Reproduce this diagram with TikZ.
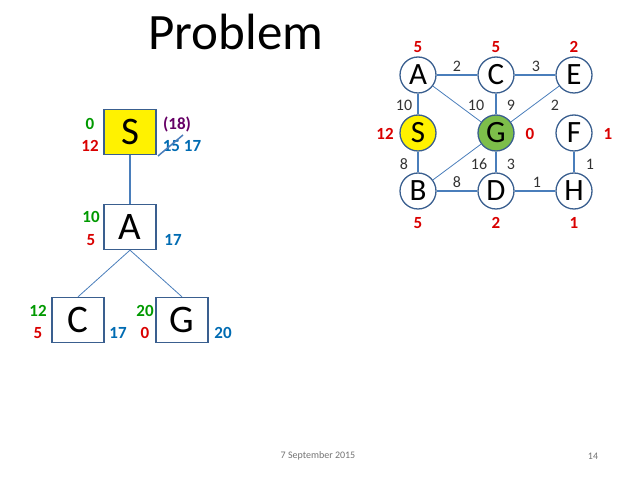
\documentclass[tikz,border=0pt]{standalone}
\usepackage{fontspec}
\setmainfont{Carlito}
\definecolor{gfill}{HTML}{7DBE4A}
\definecolor{ecol}{HTML}{4A7EBB}
\definecolor{bcol}{HTML}{3A5F8F}
\begin{document}
\begin{tikzpicture}[x=1pt,y=-1pt,
 gn/.style={circle,draw=bcol,line width=1.3pt,minimum size=36pt,inner sep=0pt,font=\fontsize{31}{31}\selectfont},
 tb/.style={draw=bcol,line width=1.3pt,minimum width=52pt,minimum height=45pt,inner sep=0pt,font=\fontsize{39}{39}\selectfont},
 thick edge/.style={draw=ecol,line width=1.8pt},
 thin edge/.style={draw=ecol,line width=0.8pt},
 rl/.style={text=red!85!black,font=\bfseries\fontsize{17}{17}\selectfont},
 gl/.style={text=green!60!black,font=\bfseries\fontsize{17}{17}\selectfont},
 bl/.style={text=blue!40!cyan!70!black,font=\bfseries\fontsize{17}{17}\selectfont},
 el/.style={text=black!80,font=\fontsize{16}{16}\selectfont}]
\useasboundingbox (0,0) rectangle (638,478);
\node (title) at (236,32) {\fontsize{51}{51}\selectfont Problem};
% graph
\node[gn] (A) at (418,75) {A};
\node[gn] (C) at (496,75) {C};
\node[gn] (E) at (574,75) {E};
\node[gn,fill=yellow] (S) at (418,133) {S};
\node[gn,fill=gfill] (G) at (496,133) {G};
\node[gn] (F) at (574,133) {F};
\node[gn] (B) at (418,191) {B};
\node[gn] (D) at (496,191) {D};
\node[gn] (H) at (574,191) {H};
\draw[thick edge] (A)--(C); \draw[thick edge] (C)--(E);
\draw[thick edge] (A)--(S); \draw[thick edge] (C)--(G);
\draw[thick edge] (S)--(B); \draw[thick edge] (G)--(D);
\draw[thick edge] (B)--(D); \draw[thick edge] (D)--(H);
\draw[thick edge] (F)--(H);
\draw[thin edge] (A)--(G); \draw[thin edge] (E)--(G); \draw[thin edge] (B)--(G);
\node[rl] (hA) at (418,47) {5};
\node[rl] (hC) at (496,47) {5};
\node[rl] (hE) at (574,47) {2};
\node[rl] (hS) at (385,134) {12};
\node[rl] (hG) at (530,134) {0};
\node[rl] (hF) at (608,134) {1};
\node[rl] (hB) at (418,223) {5};
\node[rl] (hD) at (496,223) {2};
\node[rl] (hH) at (574,223) {1};
\node[el] (e1) at (457,66) {2};
\node[el] (e2) at (536,66) {3};
\node[el] (e3) at (404,105) {10};
\node[el] (e4) at (476,105) {10};
\node[el] (e5) at (511,105) {9};
\node[el] (e6) at (555,105) {2};
\node[el] (e7) at (404,164) {8};
\node[el] (e8) at (479,164) {16};
\node[el] (e9) at (511,164) {3};
\node[el] (e10) at (457,182) {8};
\node[el] (e11) at (537,182) {1};
\node[el] (e12) at (590,164) {1};
% tree
\node[tb,fill=yellow] (tS) at (130,132) {S};
\node[tb,fill=white] (tA) at (130,227) {A};
\node[tb,fill=white] (tC) at (78,320) {C};
\node[tb,fill=white] (tG) at (182,320) {G};
\draw[thin edge,line width=1.2pt] (tS)--(tA);
\draw[thin edge] (tA.south)--(tC.north);
\draw[thin edge] (tA.south)--(tG.north);
\node[gl] (sg) at (90,124) {0};
\node[rl] (sr) at (90,146) {12};
\node[text=violet!80!black,font=\bfseries\fontsize{17}{17}\selectfont] (sp) at (177,124) {(18)};
\node[bl] (sb) at (182,146) {15 17};
\coordinate (s1) at (158,156);
\coordinate (s2) at (183,135);
\draw[ecol,line width=1.5pt] (s1)--(s2);
\node[gl] (ag) at (91,217) {10};
\node[rl] (ar) at (91,240) {5};
\node[bl] (ab) at (173,240) {17};
\node[gl] (cg) at (38,311) {12};
\node[rl] (cr) at (38,333) {5};
\node[bl] (cb) at (118,333) {17};
\node[gl] (gg) at (145,311) {20};
\node[rl] (gr) at (145,333) {0};
\node[bl] (gb) at (223,333) {20};
\node[text=black!55,font=\fontsize{10}{10}\selectfont] (date) at (318,456) {7 September 2015};
\node[text=black!55,font=\fontsize{10}{10}\selectfont] (pg) at (593,456) {14};
\end{tikzpicture}
\end{document}
